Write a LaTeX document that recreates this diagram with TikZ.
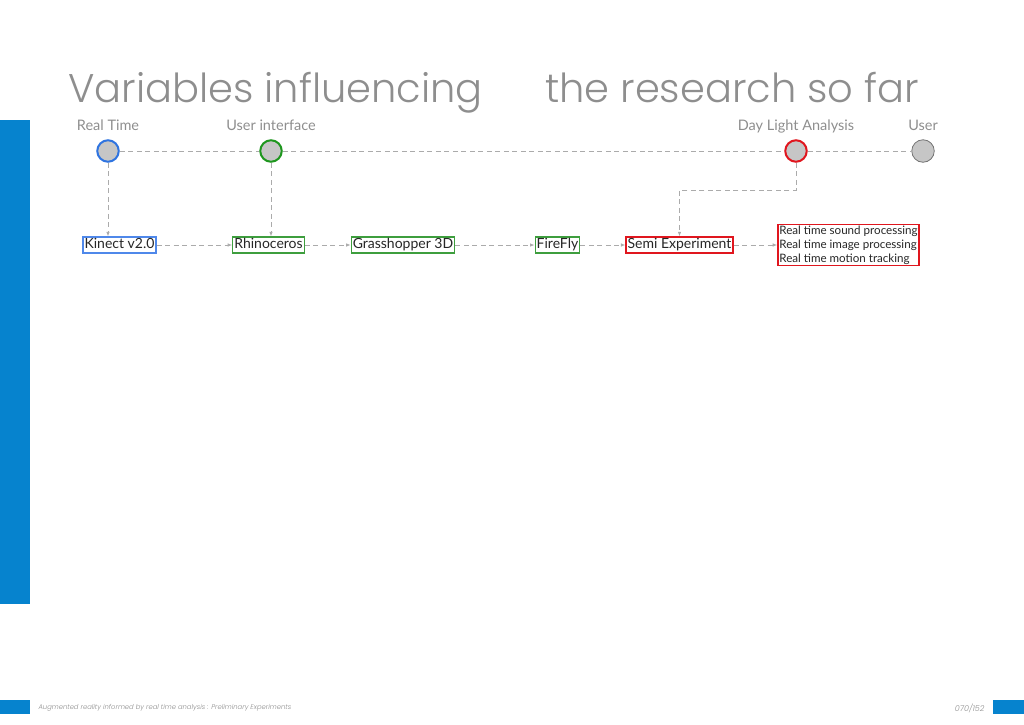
\documentclass[tikz,border=0pt]{standalone}
\usepackage{fontspec}
\setmainfont{Lato}
\newfontfamily\titlefont{Poppins}[UprightFont=* Light, ItalicFont=* Light Italic]
\usetikzlibrary{arrows.meta}

\definecolor{barblue}{HTML}{0683CE}
\definecolor{rtblue}{HTML}{2F74E0}
\definecolor{boxblue}{HTML}{4F88EA}
\definecolor{uigreen}{HTML}{1E961E}
\definecolor{boxgreen}{HTML}{3E9E3E}
\definecolor{dlred}{HTML}{E0161E}
\definecolor{circgray}{HTML}{C6C6C6}
\definecolor{labelgray}{HTML}{8E8E8E}
\definecolor{linkgray}{HTML}{ABABAB}

\tikzset{
	varcircle/.style={circle, fill=circgray, draw=#1, line width=2pt, minimum size=21.5pt, inner sep=0pt},
	varlabel/.style={anchor=base, text=labelgray, font=\fontsize{14.5}{16}\selectfont},
	toolbox/.style={rectangle, draw=#1, text=black!85, line width=1.3pt, inner xsep=1.5pt, inner ysep=1.5pt, text height=10pt, text depth=3pt, font=\fontsize{14}{15}\selectfont},
	link/.style={draw=linkgray, line width=0.8pt, dash pattern=on 5pt off 3.5pt},
	linkarrow/.style={link, -{Latex[length=4.5pt,width=3.5pt]}}
}

\begin{document}
\begin{tikzpicture}[x=1pt, y=-1pt]
		\useasboundingbox (0,0) rectangle (1024,724);
		
		%page decoration
		\fill[barblue] (0,120) rectangle (30,604);
		\fill[barblue] (0,700) rectangle (30,714);
		\fill[barblue] (993,700) rectangle (1024,714);
		\node[anchor=west, text=labelgray, font=\titlefont\itshape\fontsize{6.8}{8}\selectfont] (footer) at (35,708){Augmented reality informed by real time analysis : Preliminary Experiments};
		\node[anchor=east, text=labelgray, font=\titlefont\itshape\fontsize{8}{9}\selectfont] (pagenum) at (988,708){070/152};
		
		%title
		\node[anchor=base west, inner sep=0pt, text=labelgray, font=\titlefont\fontsize{40}{44}\selectfont] (title1) at (68,102){Variables influencing};
		\node[anchor=base west, inner sep=0pt, text=labelgray, font=\titlefont\fontsize{40}{44}\selectfont] (title2) at (545,102){the research so far};
		
		%variables
		\node[varcircle=rtblue] (rt) at (108,151){};
		\node[varcircle=uigreen] (ui) at (271,151){};
		\node[varcircle=dlred] (dl) at (796,151){};
		\node[varcircle=black!55, line width=0.8pt, minimum size=22.5pt] (user) at (923,151){};
		
		\node[varlabel] (rtlabel) at (108,130){Real Time};
		\node[varlabel] (uilabel) at (271,130){User interface};
		\node[varlabel] (dllabel) at (796,130){Day Light Analysis};
		\node[varlabel] (userlabel) at (923,130){User};
		
		\draw[link] (rt) -- (ui);
		\draw[link] (ui) -- (dl);
		\draw[link] (dl) -- (user);
		
		%tools
		\node[toolbox=boxblue] (kinect) at (119.5,245){Kinect v2.0};
		\node[toolbox=boxgreen] (rhino) at (268.5,245){Rhinoceros};
		\node[toolbox=boxgreen] (gh) at (403,245){Grasshopper 3D};
		\node[toolbox=boxgreen] (firefly) at (557.5,245){FireFly};
		\node[toolbox=dlred] (semi) at (679.5,245){Semi Experiment};
		\node[toolbox=dlred, align=left, text height=, text depth=, inner ysep=1.5pt, font=\fontsize{11.6}{14}\selectfont] (realtime) at (848.5,245){Real time sound processing\\Real time image processing\\Real time motion tracking};
		
		\draw[linkarrow] (rt) -- (rt |- kinect.north);
		\draw[linkarrow] (ui) -- (ui |- rhino.north);
		\coordinate (bend) at (796,190);
		\draw[linkarrow] (dl) -- (bend) -| (semi.north);
		
		\draw[linkarrow] (kinect) -- (rhino);
		\draw[linkarrow] (rhino) -- (gh);
		\draw[linkarrow] (gh) -- (firefly);
		\draw[linkarrow] (firefly) -- (semi);
		\draw[linkarrow] (semi) -- (realtime);
	\end{tikzpicture}
\end{document}
